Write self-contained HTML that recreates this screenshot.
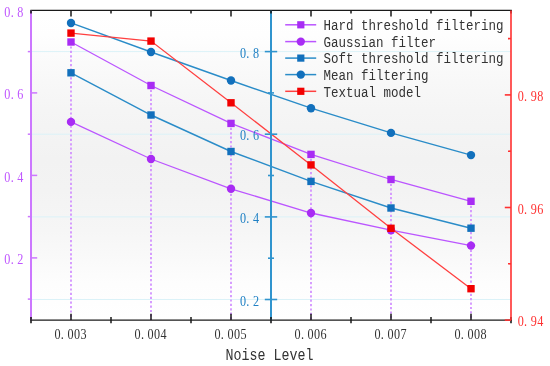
<!DOCTYPE html><html><head><meta charset="utf-8"><title>Noise Level chart</title>
<style>html,body{margin:0;padding:0;background:#fff;width:550px;height:366px;overflow:hidden}svg{display:block}</style>
</head><body>
<svg width="550" height="366" viewBox="0 0 550 366">
<defs><linearGradient id="bg" x1="0" y1="0" x2="0" y2="1"><stop offset="0" stop-color="#ffffff"/><stop offset="0.08" stop-color="#fefefe"/><stop offset="0.17" stop-color="#fafafa"/><stop offset="0.32" stop-color="#f5f5f5"/><stop offset="0.48" stop-color="#f2f2f2"/><stop offset="0.58" stop-color="#f3f3f3"/><stop offset="0.71" stop-color="#f6f6f6"/><stop offset="0.81" stop-color="#fafafa"/><stop offset="0.88" stop-color="#fdfdfd"/><stop offset="1" stop-color="#ffffff"/></linearGradient></defs>
<rect width="550" height="366" fill="#fff"/>
<rect x="31.0" y="10.4" width="480.0" height="309.8" fill="url(#bg)"/>
<line x1="31.0" y1="51.6" x2="511.0" y2="51.6" stroke="#DBF2F8" stroke-width="1"/>
<line x1="31.0" y1="134.2" x2="511.0" y2="134.2" stroke="#DBF2F8" stroke-width="1"/>
<line x1="31.0" y1="216.9" x2="511.0" y2="216.9" stroke="#DBF2F8" stroke-width="1"/>
<line x1="31.0" y1="299.5" x2="511.0" y2="299.5" stroke="#DBF2F8" stroke-width="1"/>
<line x1="71" y1="42.0" x2="71" y2="320.2" stroke="#D08CFF" stroke-width="1.7" stroke-dasharray="2.2 2.2"/>
<line x1="151" y1="85.5" x2="151" y2="320.2" stroke="#D08CFF" stroke-width="1.7" stroke-dasharray="2.2 2.2"/>
<line x1="231" y1="123.4" x2="231" y2="320.2" stroke="#D08CFF" stroke-width="1.7" stroke-dasharray="2.2 2.2"/>
<line x1="311" y1="154.4" x2="311" y2="320.2" stroke="#D08CFF" stroke-width="1.7" stroke-dasharray="2.2 2.2"/>
<line x1="391" y1="179.5" x2="391" y2="320.2" stroke="#D08CFF" stroke-width="1.7" stroke-dasharray="2.2 2.2"/>
<line x1="471" y1="201.3" x2="471" y2="320.2" stroke="#D08CFF" stroke-width="1.7" stroke-dasharray="2.2 2.2"/>
<polyline points="71,42.0 151,85.5 231,123.4 311,154.4 391,179.5 471,201.3" fill="none" stroke="#BB55FF" stroke-width="1.3"/>
<rect x="67.30" y="38.30" width="7.4" height="7.4" fill="#A82CF4"/>
<rect x="147.30" y="81.80" width="7.4" height="7.4" fill="#A82CF4"/>
<rect x="227.30" y="119.70" width="7.4" height="7.4" fill="#A82CF4"/>
<rect x="307.30" y="150.70" width="7.4" height="7.4" fill="#A82CF4"/>
<rect x="387.30" y="175.80" width="7.4" height="7.4" fill="#A82CF4"/>
<rect x="467.30" y="197.60" width="7.4" height="7.4" fill="#A82CF4"/>
<polyline points="71,121.9 151,159.0 231,188.8 311,213.0 391,230.2 471,245.6" fill="none" stroke="#BB55FF" stroke-width="1.3"/>
<circle cx="71" cy="121.9" r="4.2" fill="#A82CF4"/>
<circle cx="151" cy="159.0" r="4.2" fill="#A82CF4"/>
<circle cx="231" cy="188.8" r="4.2" fill="#A82CF4"/>
<circle cx="311" cy="213.0" r="4.2" fill="#A82CF4"/>
<circle cx="391" cy="230.2" r="4.2" fill="#A82CF4"/>
<circle cx="471" cy="245.6" r="4.2" fill="#A82CF4"/>
<polyline points="71,72.8 151,115.0 231,151.5 311,181.4 391,208.0 471,228.2" fill="none" stroke="#2A8CC8" stroke-width="1.4"/>
<rect x="67.30" y="69.10" width="7.4" height="7.4" fill="#1270BC"/>
<rect x="147.30" y="111.30" width="7.4" height="7.4" fill="#1270BC"/>
<rect x="227.30" y="147.80" width="7.4" height="7.4" fill="#1270BC"/>
<rect x="307.30" y="177.70" width="7.4" height="7.4" fill="#1270BC"/>
<rect x="387.30" y="204.30" width="7.4" height="7.4" fill="#1270BC"/>
<rect x="467.30" y="224.50" width="7.4" height="7.4" fill="#1270BC"/>
<polyline points="71,22.95 151,52.0 231,80.5 311,108.2 391,132.9 471,155.1" fill="none" stroke="#2A8CC8" stroke-width="1.4"/>
<circle cx="71" cy="22.95" r="4.2" fill="#1270BC"/>
<circle cx="151" cy="52.0" r="4.2" fill="#1270BC"/>
<circle cx="231" cy="80.5" r="4.2" fill="#1270BC"/>
<circle cx="311" cy="108.2" r="4.2" fill="#1270BC"/>
<circle cx="391" cy="132.9" r="4.2" fill="#1270BC"/>
<circle cx="471" cy="155.1" r="4.2" fill="#1270BC"/>
<polyline points="71,33.1 151,41.1 231,102.8 311,164.9 391,228.3 471,288.7" fill="none" stroke="#FF4040" stroke-width="1.3"/>
<rect x="67.30" y="29.40" width="7.4" height="7.4" fill="#F20000"/>
<rect x="147.30" y="37.40" width="7.4" height="7.4" fill="#F20000"/>
<rect x="227.30" y="99.10" width="7.4" height="7.4" fill="#F20000"/>
<rect x="307.30" y="161.20" width="7.4" height="7.4" fill="#F20000"/>
<rect x="387.30" y="224.60" width="7.4" height="7.4" fill="#F20000"/>
<rect x="467.30" y="285.00" width="7.4" height="7.4" fill="#F20000"/>
<line x1="30.4" y1="10.45" x2="511.8" y2="10.45" stroke="#1a1a1a" stroke-width="1.25"/>
<line x1="30.4" y1="320.1" x2="511.8" y2="320.1" stroke="#1a1a1a" stroke-width="1.3"/>
<line x1="71" y1="10.3" x2="71" y2="16.4" stroke="#1a1a1a" stroke-width="1.5"/>
<line x1="71" y1="320.1" x2="71" y2="313.8" stroke="#1a1a1a" stroke-width="1.5"/>
<line x1="151" y1="10.3" x2="151" y2="16.4" stroke="#1a1a1a" stroke-width="1.5"/>
<line x1="151" y1="320.1" x2="151" y2="313.8" stroke="#1a1a1a" stroke-width="1.5"/>
<line x1="231" y1="10.3" x2="231" y2="16.4" stroke="#1a1a1a" stroke-width="1.5"/>
<line x1="231" y1="320.1" x2="231" y2="313.8" stroke="#1a1a1a" stroke-width="1.5"/>
<line x1="311" y1="10.3" x2="311" y2="16.4" stroke="#1a1a1a" stroke-width="1.5"/>
<line x1="311" y1="320.1" x2="311" y2="313.8" stroke="#1a1a1a" stroke-width="1.5"/>
<line x1="391" y1="10.3" x2="391" y2="16.4" stroke="#1a1a1a" stroke-width="1.5"/>
<line x1="391" y1="320.1" x2="391" y2="313.8" stroke="#1a1a1a" stroke-width="1.5"/>
<line x1="471" y1="10.3" x2="471" y2="16.4" stroke="#1a1a1a" stroke-width="1.5"/>
<line x1="471" y1="320.1" x2="471" y2="313.8" stroke="#1a1a1a" stroke-width="1.5"/>
<line x1="111" y1="10.3" x2="111" y2="13.4" stroke="#1a1a1a" stroke-width="1.5"/>
<line x1="111" y1="317" x2="111" y2="323.2" stroke="#1a1a1a" stroke-width="1.5"/>
<line x1="191" y1="10.3" x2="191" y2="13.4" stroke="#1a1a1a" stroke-width="1.5"/>
<line x1="191" y1="317" x2="191" y2="323.2" stroke="#1a1a1a" stroke-width="1.5"/>
<line x1="351" y1="10.3" x2="351" y2="13.4" stroke="#1a1a1a" stroke-width="1.5"/>
<line x1="351" y1="317" x2="351" y2="323.2" stroke="#1a1a1a" stroke-width="1.5"/>
<line x1="431" y1="10.3" x2="431" y2="13.4" stroke="#1a1a1a" stroke-width="1.5"/>
<line x1="431" y1="317" x2="431" y2="323.2" stroke="#1a1a1a" stroke-width="1.5"/>
<line x1="31" y1="10.4" x2="31" y2="320.2" stroke="#CC77FF" stroke-width="2"/>
<line x1="31" y1="92.9" x2="37.2" y2="92.9" stroke="#CC77FF" stroke-width="1.5"/>
<line x1="31" y1="175.4" x2="37.2" y2="175.4" stroke="#CC77FF" stroke-width="1.5"/>
<line x1="31" y1="257.9" x2="37.2" y2="257.9" stroke="#CC77FF" stroke-width="1.5"/>
<line x1="27.8" y1="51.6" x2="31" y2="51.6" stroke="#CC77FF" stroke-width="1.5"/>
<line x1="27.8" y1="134.2" x2="31" y2="134.2" stroke="#CC77FF" stroke-width="1.5"/>
<line x1="27.8" y1="216.6" x2="31" y2="216.6" stroke="#CC77FF" stroke-width="1.5"/>
<line x1="27.8" y1="299.1" x2="31" y2="299.1" stroke="#CC77FF" stroke-width="1.5"/>
<line x1="271" y1="10.4" x2="271" y2="320.2" stroke="#3094CE" stroke-width="2"/>
<line x1="264.8" y1="51.6" x2="277.2" y2="51.6" stroke="#3094CE" stroke-width="1.6"/>
<line x1="264.8" y1="134.2" x2="277.2" y2="134.2" stroke="#3094CE" stroke-width="1.6"/>
<line x1="264.8" y1="216.9" x2="277.2" y2="216.9" stroke="#3094CE" stroke-width="1.6"/>
<line x1="264.8" y1="299.5" x2="277.2" y2="299.5" stroke="#3094CE" stroke-width="1.6"/>
<line x1="268" y1="92.9" x2="274" y2="92.9" stroke="#3094CE" stroke-width="1.6"/>
<line x1="268" y1="175.5" x2="274" y2="175.5" stroke="#3094CE" stroke-width="1.6"/>
<line x1="268" y1="258.2" x2="274" y2="258.2" stroke="#3094CE" stroke-width="1.6"/>
<line x1="31" y1="317" x2="31" y2="323.2" stroke="#1a1a1a" stroke-width="1.6"/>
<line x1="271" y1="317" x2="271" y2="323.2" stroke="#1a1a1a" stroke-width="1.6"/>
<line x1="511" y1="317" x2="511" y2="323.2" stroke="#1a1a1a" stroke-width="1.6"/>
<line x1="31" y1="10.3" x2="31" y2="13.4" stroke="#1a1a1a" stroke-width="1.6"/>
<line x1="271" y1="10.3" x2="271" y2="13.4" stroke="#1a1a1a" stroke-width="1.6"/>
<line x1="511" y1="10.3" x2="511" y2="13.4" stroke="#1a1a1a" stroke-width="1.6"/>
<line x1="511" y1="10.4" x2="511" y2="320.2" stroke="#FF3030" stroke-width="1.6"/>
<line x1="504.8" y1="94.9" x2="511" y2="94.9" stroke="#FF3030" stroke-width="1.6"/>
<line x1="504.8" y1="207.5" x2="511" y2="207.5" stroke="#FF3030" stroke-width="1.6"/>
<line x1="504.8" y1="320.1" x2="511" y2="320.1" stroke="#FF3030" stroke-width="1.6"/>
<line x1="508" y1="38.6" x2="511" y2="38.6" stroke="#FF3030" stroke-width="1.6"/>
<line x1="508" y1="151.2" x2="511" y2="151.2" stroke="#FF3030" stroke-width="1.6"/>
<line x1="508" y1="263.8" x2="511" y2="263.8" stroke="#FF3030" stroke-width="1.6"/>
<g font-family="'Liberation Serif', 'Noto Serif CJK SC', serif">
<text transform="scale(0.87,1)" x="4.89 12.22 19.83" y="16.60" font-size="14" fill="#BF55FF">0.8</text>
<text transform="scale(0.87,1)" x="4.89 12.22 19.83" y="99.10" font-size="14" fill="#BF55FF">0.6</text>
<text transform="scale(0.87,1)" x="4.89 12.22 19.83" y="181.60" font-size="14" fill="#BF55FF">0.4</text>
<text transform="scale(0.87,1)" x="4.89 12.22 19.83" y="264.10" font-size="14" fill="#BF55FF">0.2</text>
<text transform="scale(0.87,1)" x="275.87 283.19 290.81" y="57.80" font-size="14" fill="#2080C4">0.8</text>
<text transform="scale(0.87,1)" x="275.87 283.19 290.81" y="140.40" font-size="14" fill="#2080C4">0.6</text>
<text transform="scale(0.87,1)" x="275.87 283.19 290.81" y="223.10" font-size="14" fill="#2080C4">0.4</text>
<text transform="scale(0.87,1)" x="275.87 283.19 290.81" y="305.70" font-size="14" fill="#2080C4">0.2</text>
<text transform="scale(0.87,1)" x="595.06 602.39 610.01 617.48" y="101.30" font-size="14" fill="#FF3030">0.98</text>
<text transform="scale(0.87,1)" x="595.06 602.39 610.01 617.48" y="213.90" font-size="14" fill="#FF3030">0.96</text>
<text transform="scale(0.87,1)" x="595.06 602.39 610.01 617.48" y="326.50" font-size="14" fill="#FF3030">0.94</text>
<text transform="scale(0.87,1)" x="62.65 69.97 77.59 85.06 92.53" y="339.00" font-size="14" fill="#333333">0.003</text>
<text transform="scale(0.87,1)" x="154.60 161.93 169.55 177.02 184.49" y="339.00" font-size="14" fill="#333333">0.004</text>
<text transform="scale(0.87,1)" x="246.56 253.88 261.50 268.97 276.44" y="339.00" font-size="14" fill="#333333">0.005</text>
<text transform="scale(0.87,1)" x="338.51 345.84 353.45 360.93 368.40" y="339.00" font-size="14" fill="#333333">0.006</text>
<text transform="scale(0.87,1)" x="430.47 437.79 445.41 452.88 460.35" y="339.00" font-size="14" fill="#333333">0.007</text>
<text transform="scale(0.87,1)" x="522.42 529.74 537.36 544.83 552.30" y="339.00" font-size="14" fill="#333333">0.008</text>
</g>
<g font-family="'Liberation Mono', 'Noto Sans CJK SC', monospace">
<text x="225.4" y="359.8" font-size="16.5" fill="#333333" textLength="88.00" lengthAdjust="spacingAndGlyphs">Noise Level</text>
<text x="323.6" y="30.0" font-size="15.5" fill="#333333" textLength="180.00" lengthAdjust="spacingAndGlyphs">Hard threshold filtering</text>
<text x="323.6" y="46.800000000000004" font-size="15.5" fill="#333333" textLength="112.50" lengthAdjust="spacingAndGlyphs">Gaussian filter</text>
<text x="323.6" y="63.300000000000004" font-size="15.5" fill="#333333" textLength="180.00" lengthAdjust="spacingAndGlyphs">Soft threshold filtering</text>
<text x="323.6" y="79.8" font-size="15.5" fill="#333333" textLength="105.00" lengthAdjust="spacingAndGlyphs">Mean filtering</text>
<text x="323.6" y="96.5" font-size="15.5" fill="#333333" textLength="97.50" lengthAdjust="spacingAndGlyphs">Textual model</text>
</g>
<line x1="285.2" y1="24.8" x2="316.2" y2="24.8" stroke="#BB55FF" stroke-width="1.5"/>
<rect x="297.2" y="21.2" width="7.2" height="7.2" fill="#A82CF4"/>
<line x1="285.2" y1="41.6" x2="316.2" y2="41.6" stroke="#BB55FF" stroke-width="1.5"/>
<circle cx="300.8" cy="41.6" r="4.2" fill="#A82CF4"/>
<line x1="285.2" y1="58.1" x2="316.2" y2="58.1" stroke="#2A8CC8" stroke-width="1.5"/>
<rect x="297.2" y="54.5" width="7.2" height="7.2" fill="#1270BC"/>
<line x1="285.2" y1="74.6" x2="316.2" y2="74.6" stroke="#2A8CC8" stroke-width="1.5"/>
<circle cx="300.8" cy="74.6" r="4.2" fill="#1270BC"/>
<line x1="285.2" y1="91.3" x2="316.2" y2="91.3" stroke="#FF4040" stroke-width="1.5"/>
<rect x="297.2" y="87.7" width="7.2" height="7.2" fill="#F20000"/>
</svg></body></html>
